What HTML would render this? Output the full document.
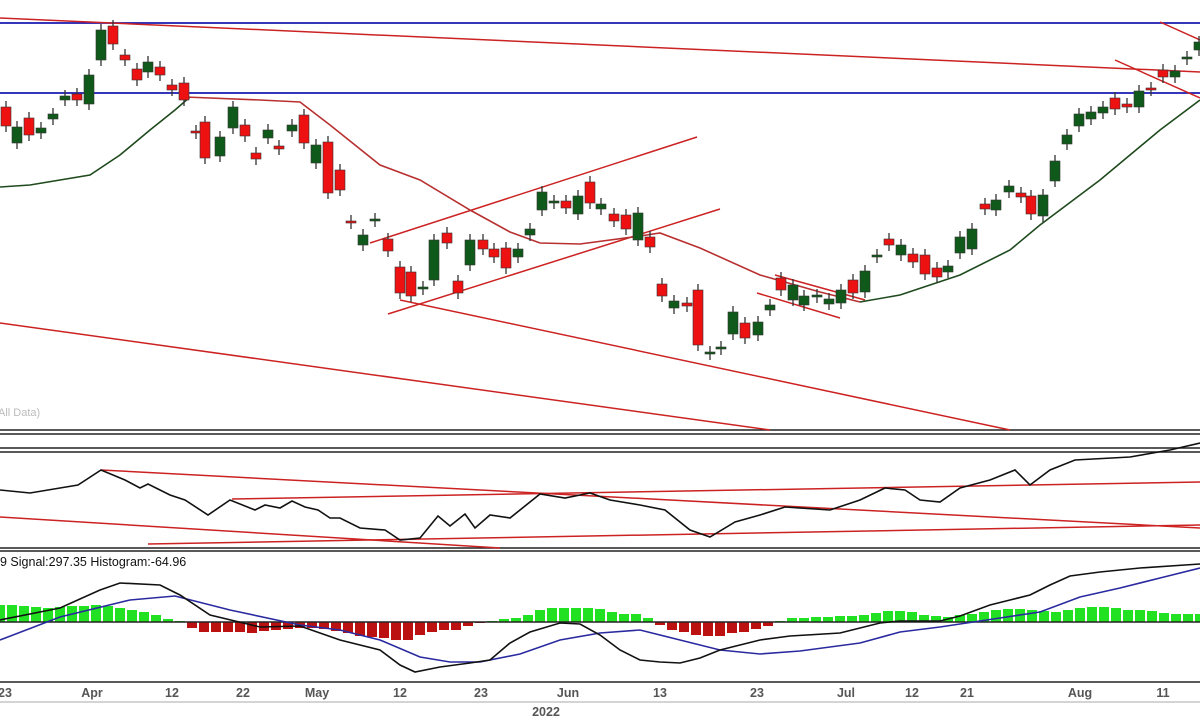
<!DOCTYPE html><html><head><meta charset="utf-8"><style>
body{margin:0;background:#fff;width:1200px;height:720px;overflow:hidden}
svg{display:block;font-family:"Liberation Sans",sans-serif}
</style></head><body>
<svg id="s" width="1200" height="720" viewBox="0 0 1200 720" xmlns="http://www.w3.org/2000/svg">
<rect width="1200" height="720" fill="#fff"/>
<text x="-2" y="416" font-size="11" fill="#bbb">All Data)</text>
<g stroke="#222" stroke-width="1.6">
<line x1="0" y1="430" x2="1200" y2="430"/><line x1="0" y1="434" x2="1200" y2="434"/>
<line x1="0" y1="448" x2="1200" y2="448"/><line x1="0" y1="452" x2="1200" y2="452"/>
<line x1="0" y1="548" x2="1200" y2="548"/><line x1="0" y1="551" x2="1200" y2="551"/>
<line x1="0" y1="682" x2="1200" y2="682"/>
</g>
<line x1="0" y1="702" x2="1200" y2="702" stroke="#aaa" stroke-width="1"/>
<text x="0" y="566" font-size="12.5" fill="#111">9 Signal:297.35 Histogram:-64.96</text>
<g font-size="12.5" font-weight="bold" fill="#555" text-anchor="middle">
<text x="5" y="697">23</text><text x="92" y="697">Apr</text><text x="172" y="697">12</text><text x="243" y="697">22</text><text x="317" y="697">May</text><text x="400" y="697">12</text><text x="481" y="697">23</text><text x="568" y="697">Jun</text><text x="660" y="697">13</text><text x="757" y="697">23</text><text x="846" y="697">Jul</text><text x="912" y="697">12</text><text x="967" y="697">21</text><text x="1080" y="697">Aug</text><text x="1163" y="697">11</text>
<text x="546" y="716">2022</text>
</g>
<g id="g"></g>
</svg>
<script>
var g=document.getElementById('g'),h='';
function L(x1,y1,x2,y2,c,w){h+='<line x1="'+x1+'" y1="'+y1+'" x2="'+x2+'" y2="'+y2+'" stroke="'+c+'" stroke-width="'+(w||1.5)+'"/>';}
function P(pts,c,w){h+='<polyline fill="none" stroke="'+c+'" stroke-width="'+(w||1.6)+'" points="'+pts+'"/>';}
// MACD histogram
var hist=[[0,605],[12,605],[24,606],[36,607],[48,608],[60,607],[72,606],[84,606],[96,605],[108,606],[120,608],[132,610],[144,612],[156,615],[168,619],[180,621],[192,628],[204,632],[216,632],[228,632],[240,632],[252,633],[264,631],[276,630],[288,629],[300,628],[312,628],[324,629],[336,631],[348,633],[360,636],[372,637],[384,638],[396,640],[408,640],[420,635],[432,632],[444,630],[456,630],[468,626],[480,623],[492,621],[504,619],[516,618],[528,615],[540,610],[552,608],[564,608],[576,608],[588,608],[600,609],[612,612],[624,614],[636,614],[648,618],[660,625],[672,630],[684,632],[696,635],[708,636],[720,636],[732,633],[744,632],[756,629],[768,626],[780,621],[792,618],[804,618],[816,617],[828,617],[840,616],[852,616],[864,615],[876,613],[888,611],[900,611],[912,612],[924,615],[936,616],[948,617],[960,615],[972,614],[984,612],[996,610],[1008,609],[1020,609],[1032,610],[1044,611],[1056,612],[1068,610],[1080,608],[1092,607],[1104,607],[1116,608],[1128,610],[1140,610],[1152,611],[1164,613],[1176,614],[1188,614],[1200,614]];
hist.forEach(function(b){var y=b[1],z=622;var c=y<z?'#22e022':'#bb1111';h+='<rect x="'+(b[0]-5)+'" y="'+Math.min(y,z)+'" width="10" height="'+Math.abs(y-z)+'" fill="'+c+'"/>';});
L(0,622,1200,622,'#222',1.5);
P("0,640 60,617 130,600 175,596 230,610 300,625 340,630 380,640 420,657 450,662 480,662 520,654 560,640 600,633 640,630 680,640 720,650 760,654 800,651 860,643 900,632 940,627 1000,618 1040,612 1080,597 1120,588 1160,578 1200,568",'#2a2aa0');
P("0,620 60,608 100,590 120,583 160,585 180,595 210,615 260,627 300,626 340,640 380,650 400,665 415,672 440,667 470,663 490,660 510,643 530,632 560,623 580,624 600,635 620,650 640,660 660,662 680,663 700,658 720,650 760,640 790,636 840,633 880,623 900,621 940,621 960,616 990,605 1010,600 1030,595 1050,585 1070,576 1100,572 1140,568 1200,564",'#111');
// RSI
L(101,470,1200,528,'#cc2222');L(0,517,500,548,'#cc2222');L(232,499,1200,482,'#cc2222');L(148,544,1200,525,'#cc2222');
P("0,490 30,493 60,488 78,485 101,470 125,480 140,488 148,484 170,495 185,500 208,515 230,500 255,510 265,505 280,508 292,501 305,507 318,510 330,518 340,518 360,528 385,530 400,540 420,538 438,516 450,526 465,514 475,528 490,515 510,518 540,494 565,498 590,493 610,500 640,505 665,510 690,530 710,537 735,522 760,515 785,507 830,510 860,500 885,488 905,490 920,500 940,502 960,488 990,480 1015,470 1030,485 1050,470 1075,460 1130,457 1170,450 1200,443",'#111');
// main lines
L(0,23,1200,23,'#1a1ab0',1.8);L(0,93,1200,93,'#1a1ab0',1.8);
L(0,18,1200,72,'#cc2222');L(1115,60,1200,98,'#cc2222');L(1160,22,1200,40,'#cc2222');
L(370,243,697,137,'#cc2222');L(388,314,720,209,'#cc2222');
L(400,300,1010,430,'#cc2222');L(0,323,770,430,'#cc2222');
L(757,293,840,318,'#cc2222');L(775,275,865,300,'#cc2222');
P("0,187 30,185 90,175 120,155 150,130 175,110 190,97",'#1e4a1e');
P("185,97 260,100 300,102 330,125 380,165 420,180 470,210 510,232 540,243 580,244 640,236 660,233 700,248 760,275 820,292 860,302",'#b83030');
P("860,302 900,295 960,275 1010,250 1040,225 1100,180 1160,130 1200,100",'#1e4a1e');
// candles: x, top, bottom, color(g/r)
var C=[[6,107,126,'r'],[17,127,143,'g'],[29,118,135,'r'],[41,128,133,'g'],[53,114,119,'g'],[65,96,100,'g'],[77,94,100,'r'],[89,75,104,'g'],[101,30,60,'g'],[113,26,44,'r'],[125,55,60,'r'],[137,69,80,'r'],[148,62,72,'g'],[160,67,75,'r'],[172,85,90,'r'],[184,83,100,'r'],[196,131,133,'r'],[205,122,158,'r'],[220,137,156,'g'],[233,107,128,'g'],[245,125,136,'r'],[256,153,159,'r'],[268,130,138,'g'],[279,146,149,'r'],[292,125,131,'g'],[304,115,143,'r'],[316,145,163,'g'],[328,142,193,'r'],[340,170,190,'r'],[351,221,223,'r'],[363,235,245,'g'],[375,219,221,'g'],[388,239,251,'r'],[400,267,293,'r'],[411,272,296,'r'],[423,287,289,'g'],[434,240,280,'g'],[447,233,243,'r'],[458,281,293,'r'],[470,240,265,'g'],[483,240,249,'r'],[494,249,257,'r'],[506,248,268,'r'],[518,249,257,'g'],[530,229,235,'g'],[542,192,210,'g'],[554,201,203,'g'],[566,201,208,'r'],[578,196,214,'g'],[590,182,203,'r'],[601,204,209,'g'],[614,214,221,'r'],[626,215,229,'r'],[638,213,240,'g'],[650,237,247,'r'],[662,284,296,'r'],[674,301,308,'g'],[687,303,306,'r'],[698,290,345,'r'],[710,352,354,'g'],[721,347,349,'g'],[733,312,334,'g'],[745,323,338,'r'],[758,322,335,'g'],[770,305,310,'g'],[781,278,290,'r'],[793,285,300,'g'],[804,296,305,'g'],[817,295,297,'g'],[829,299,304,'g'],[841,290,303,'g'],[853,280,293,'r'],[865,271,292,'g'],[877,255,257,'g'],[889,239,245,'r'],[901,245,255,'g'],[913,254,262,'r'],[925,255,274,'r'],[937,268,277,'r'],[948,266,272,'g'],[960,237,253,'g'],[972,229,249,'g'],[985,204,209,'r'],[996,200,210,'g'],[1009,186,192,'g'],[1021,193,197,'r'],[1031,196,214,'r'],[1043,195,216,'g'],[1055,161,181,'g'],[1067,135,144,'g'],[1079,114,126,'g'],[1091,112,119,'g'],[1103,107,113,'g'],[1115,98,109,'r'],[1127,104,107,'r'],[1139,91,107,'g'],[1151,88,90,'r'],[1163,70,77,'r'],[1175,71,77,'g'],[1187,57,59,'g'],[1199,42,50,'g']];
C.forEach(function(c){var col=c[3]=='g'?'#0f5a1a':'#ee1111';var wt=c[1]-6,wb=c[2]+6;
h+='<line x1="'+c[0]+'" y1="'+wt+'" x2="'+c[0]+'" y2="'+wb+'" stroke="#333" stroke-width="1.3"/>';
h+='<rect x="'+(c[0]-5)+'" y="'+c[1]+'" width="10" height="'+Math.max(2,c[2]-c[1])+'" fill="'+col+'" stroke="#333" stroke-width="0.6"/>';});
g.innerHTML=h;
</script>
</body></html>
